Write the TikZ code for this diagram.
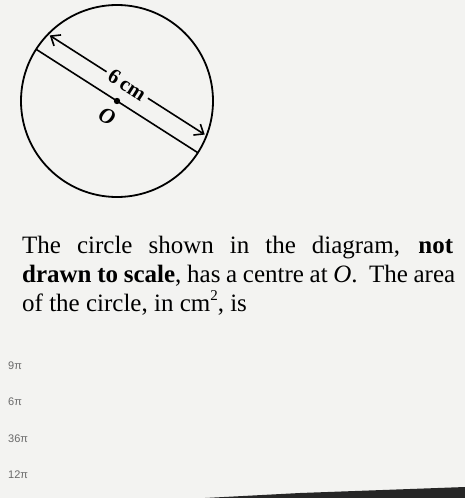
\documentclass[tikz,border=0pt]{standalone}
\usepackage{fontspec}
\setmainfont{Liberation Serif}
\newfontfamily\optfont{Liberation Sans}
\usetikzlibrary{arrows.meta,positioning}
\definecolor{paper}{RGB}{243,243,241}
\definecolor{optgray}{RGB}{105,105,105}
\tikzset{
    %Define standard arrow tip
    >={Straight Barb[length=8pt,width=13pt,line width=1.6pt]},
    %Define style for the circle
    rim/.style={
           draw=black,
           line width=1.8pt},
    %Define style for the lines across
    chord/.style={
           draw=black,
           line width=1.6pt},
    %Define style for labels in the figure
    figlabel/.style={
           inner sep=1pt,
           font=\fontsize{21}{21}\selectfont\bfseries},
    %Define style for the question text
    question/.style={
           anchor=base west,
           inner sep=0pt,
           font=\fontsize{25}{30}\selectfont},
    %Define style for the answer options
    option/.style={
           anchor=base west,
           inner sep=0pt,
           text=optgray,
           font=\optfont\fontsize{11}{13}\selectfont}
}
\begin{document}
\begin{tikzpicture}[x=1pt,y=-1pt]
\fill[paper] (0,0) rectangle (465,498);
\useasboundingbox (0,0) rectangle (465,498);
 %circle
\coordinate (O) at (117,101);
\draw[rim] (O) circle (96pt);
\coordinate (d1) at ([shift={(212.6:96)}]O);
\coordinate (d2) at ([shift={(32.6:96)}]O);
\draw[chord] (d1) -- (d2);
\fill (O) circle (3.2pt);
\node[figlabel, font=\fontsize{22}{22}\selectfont\bfseries\itshape, rotate=-25] (olabel) at (107,116) {O};
 %arrow
\coordinate (mid) at ([shift={(-57.4:19)}]O);
\coordinate (a1) at ([shift={(212.6:92)}]mid);
\coordinate (a2) at ([shift={(32.6:92)}]mid);
\draw[chord, <->] (a1) -- (a2);
\node[figlabel, fill=paper, rotate=-32.6, inner xsep=4pt] (len) at (mid) {6\,cm};
 %question
\node[question] (line1) at (22,253) {\makebox[431pt][s]{The circle shown in the diagram, \textbf{not}}};
\node[question, below=29pt of line1.base west, anchor=base west] (line2) {\makebox[433pt][s]{\textbf{drawn to scale}, has a centre at \textit{O}.\ \ The area}};
\node[question, below=29pt of line2.base west, anchor=base west] (line3) {of the circle, in cm\raisebox{0.42em}{\fontsize{15}{15}\selectfont 2}, is};
 %options
\node[option] (opt1) at (8,369) {9π};
\node[option, below=36.5pt of opt1.base west, anchor=base west] (opt2) {6π};
\node[option, below=36.5pt of opt2.base west, anchor=base west] (opt3) {36π};
\node[option, below=36.5pt of opt3.base west, anchor=base west] (opt4) {12π};
 %edge of the page
\fill[black!85] (205,498) -- (300,493) -- (465,487) -- (465,498) -- cycle;
\end{tikzpicture}
\end{document}
